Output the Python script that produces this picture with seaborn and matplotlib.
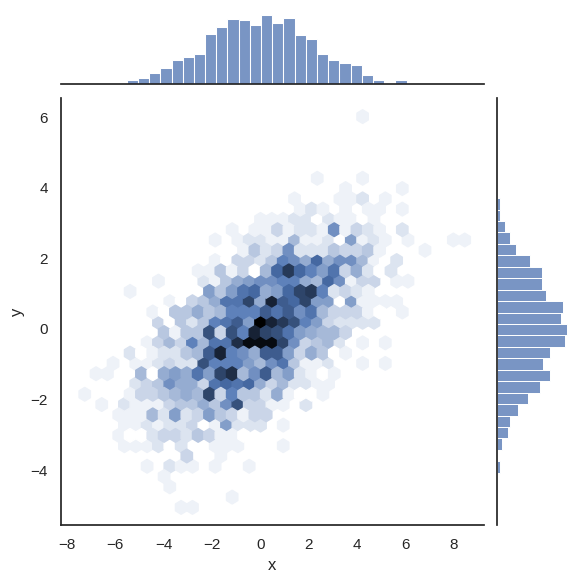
import numpy as np
import pandas as pd
import matplotlib
matplotlib.use("Agg")
import matplotlib.pyplot as plt
import seaborn as sns

# Marginal histograms (counts per bin)
x_bin_width = 0.4628
x_first_bin_center = -5.30
x_counts = [4, 6, 11, 16, 24, 27, 30, 49, 56, 64, 63, 58, 68, 60, 65, 48, 44, 30, 24, 21, 19, 9, 4, 0, 4]

y_bin_width = 0.324
y_first_bin_center = -3.91
y_counts = [3, 0, 5, 11, 13, 21, 31, 42, 52, 45, 52, 67, 69, 63, 65, 48, 44, 44, 33, 19, 13, 8, 3, 3]

# Hexagon lattice spacing and origin in data units
hex_dx = 0.469
hex_dy = 0.2912
hex_y0 = 0.19

# Hexbin counts, one entry per lattice row
row_ids = list(range(-18, 15)) + [20]
row_starts = [-7, -3, -8, -9, -10, -7, -12, -13, -12, -13, -14, -16, -11, -15, -13, -12, -10, -9, -9, -10, -8,
              -12, -9, -6, -4, -2, -4, -3, 0, 3, 3, 7, 5, 9]
row_counts = [
    [2, 2],
    [2],
    [2],
    [2],
    [2, 0, 3, 2, 2, 0, 2, 0, 0, 2],
    [4, 0, 0, 2],
    [2, 2, 2, 3, 1, 3, 0, 0, 2, 2, 2, 0, 0, 0, 2],
    [2, 1, 1, 3, 4, 4, 3, 5, 4, 2, 2, 1],
    [2, 2, 3, 2, 3, 3, 4, 1, 2, 8, 3, 3, 3, 0, 2],
    [2, 2, 2, 6, 3, 8, 3, 4, 8, 5, 4, 2, 4, 4],
    [2, 0, 3, 2, 2, 2, 4, 5, 5, 7, 5, 9, 14, 4, 4, 2, 2, 0, 3],
    [2, 0, 0, 0, 2, 4, 4, 5, 6, 7, 6, 15, 4, 10, 5, 5, 3, 7, 2, 1, 1, 2],
    [3, 4, 5, 9, 7, 7, 4, 11, 12, 11, 12, 7, 4, 6, 3, 3, 2, 2],
    [2, 2, 0, 0, 6, 1, 7, 8, 7, 11, 8, 15, 17, 6, 9, 13, 6, 8, 3, 2, 1, 2],
    [2, 0, 2, 2, 3, 4, 3, 3, 14, 10, 10, 10, 8, 6, 9, 11, 5, 2, 2, 3, 1, 0, 2, 0, 2],
    [3, 1, 2, 3, 3, 5, 6, 13, 18, 10, 9, 7, 13, 13, 8, 4, 7, 5, 1, 2],
    [2, 4, 6, 4, 10, 6, 11, 11, 17, 20, 20, 20, 15, 9, 4, 5, 6, 3, 1, 2, 0, 2],
    [5, 2, 5, 5, 14, 4, 14, 10, 18, 15, 14, 11, 8, 7, 6, 6, 4],
    [4, 1, 5, 3, 5, 10, 11, 13, 8, 21, 18, 16, 14, 10, 8, 4, 3, 3, 3, 3],
    [2, 1, 5, 5, 7, 5, 6, 10, 10, 10, 13, 11, 13, 9, 11, 6, 4, 4, 4, 2, 1, 0, 2],
    [2, 1, 4, 5, 7, 11, 11, 15, 7, 18, 13, 12, 15, 8, 8, 1, 8, 2, 2, 2, 2],
    [2, 0, 0, 0, 0, 0, 0, 8, 5, 8, 11, 12, 7, 8, 12, 15, 16, 10, 3, 4, 3, 2],
    [2, 0, 0, 0, 3, 2, 5, 7, 8, 9, 9, 10, 10, 7, 6, 12, 9, 2, 4, 4, 0, 2, 2],
    [2, 2, 5, 2, 4, 1, 6, 12, 16, 12, 10, 8, 11, 4, 7, 3, 1, 3],
    [2, 1, 4, 4, 3, 5, 10, 9, 7, 12, 7, 9, 9, 6, 2, 1, 3],
    [2, 5, 3, 4, 9, 3, 3, 3, 5, 4, 4, 5, 2, 0, 0, 0, 2],
    [2, 0, 2, 3, 3, 2, 2, 6, 2, 2, 3, 1, 8, 2, 3, 2, 0, 2, 0, 0, 0, 2, 2],
    [2, 0, 2, 2, 4, 2, 3, 3, 2, 9, 2, 4, 3, 2, 0, 3],
    [2, 2, 2, 3, 3, 1, 3, 2, 2, 1, 2],
    [2, 3, 2, 0, 2, 0, 2, 2, 0, 2],
    [2, 0, 0, 0, 2, 2, 3, 0, 2],
    [2, 0, 0, 0, 0, 2],
    [2, 0, 0, 0, 2],
    [2],
]

x_tick_values = [-8, -6, -4, -2, 0, 2, 4, 6, 8]
y_tick_values = [-4, -2, 0, 2, 4, 6]

sns.set_theme(style="white")
plt.rcParams["font.family"] = ["Liberation Sans", "DejaVu Sans"]

# Expand the rows into a long table of cell centres and counts
records = []
for r, start, counts in zip(row_ids, row_starts, row_counts):
    shift = 0.5 if r % 2 else 0.0
    for i, c in enumerate(counts):
        if c:
            records.append(((start + i + shift) * hex_dx, hex_y0 + r * hex_dy, c))
hexes = pd.DataFrame(records, columns=["x", "y", "count"])

color = "#4c72b0"
rgb = matplotlib.colors.to_rgb(color)
shades = [sns.utils.set_hls_values(rgb, l=v) for v in np.linspace(1, 0, 12)]
cmap = sns.blend_palette(shades, as_cmap=True)

g = sns.JointGrid(height=6, ratio=5, space=0.2)
fig = g.figure
fig.set_size_inches(5.79, 5.84)
W, H = 579.0, 584.0


def place(ax, l, t, r, b):
    ax.set_position([l / W, 1 - b / H, (r - l) / W, (b - t) / H])


place(g.ax_joint, 61, 98, 484, 525)
place(g.ax_marg_x, 61, 11.5, 484, 84)
place(g.ax_marg_y, 497, 98, 571, 525)

nx, ny = 36, 22
sy = 2 * hex_dy
extent = (-18 * hex_dx, 18 * hex_dx, hex_y0 - 10 * sy, hex_y0 + 12 * sy)
g.ax_joint.hexbin(hexes["x"], hexes["y"], C=hexes["count"], reduce_C_function=np.sum,
                  gridsize=(nx, ny), extent=extent, cmap=cmap, vmin=1, vmax=21)

x_centers = x_first_bin_center + x_bin_width * np.arange(len(x_counts))
y_centers = y_first_bin_center + y_bin_width * np.arange(len(y_counts))
sns.histplot(x=x_centers, weights=x_counts, bins=x_centers.size,
             binrange=(x_centers[0] - x_bin_width / 2, x_centers[-1] + x_bin_width / 2),
             color=color, ax=g.ax_marg_x)
sns.histplot(y=y_centers, weights=y_counts, bins=y_centers.size,
             binrange=(y_centers[0] - y_bin_width / 2, y_centers[-1] + y_bin_width / 2),
             color=color, ax=g.ax_marg_y)

g.ax_joint.set_xlim(-8.25, 9.24)
g.ax_joint.set_ylim(-5.55, 6.54)
g.ax_joint.set_xticks(x_tick_values)
g.ax_joint.set_yticks(y_tick_values)
g.ax_joint.set_xlabel("x")
g.ax_joint.set_ylabel("y")
g.ax_marg_x.set_ylim(0, 71.5)
g.ax_marg_y.set_xlim(0, 73)
g.ax_marg_x.set_xlabel("")
g.ax_marg_x.set_ylabel("")
g.ax_marg_y.set_xlabel("")
g.ax_marg_y.set_ylabel("")
sns.despine(ax=g.ax_joint)
sns.despine(ax=g.ax_marg_x, left=True)
sns.despine(ax=g.ax_marg_y, bottom=True)
plt.setp(g.ax_marg_x.get_xticklabels() + g.ax_marg_x.get_yticklabels(), visible=False)
plt.setp(g.ax_marg_y.get_xticklabels() + g.ax_marg_y.get_yticklabels(), visible=False)
g.ax_marg_x.tick_params(left=False, bottom=False)
g.ax_marg_y.tick_params(left=False, bottom=False)

fig.savefig("out.png", dpi=100)
